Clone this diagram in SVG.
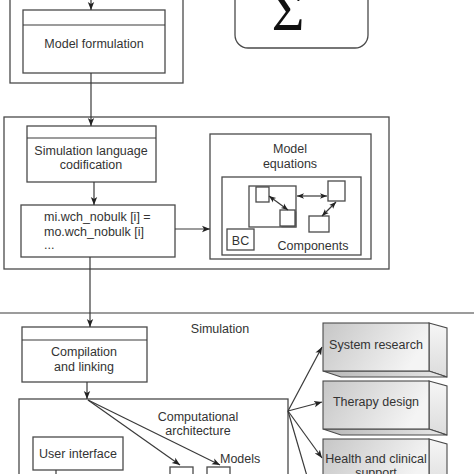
<svg xmlns="http://www.w3.org/2000/svg" width="474" height="474" viewBox="0 0 474 474">
<style>
  .box { fill: #fff; stroke: #4a4a4a; stroke-width: 1.3; }
  .ln { fill: none; stroke: #3a3a3a; stroke-width: 1.2; }
  .t { font-family: "Liberation Sans", Arial, sans-serif; font-size: 12.5px; fill: #333; }
  .c { text-anchor: middle; }
</style>
<defs>
  <marker id="ah" viewBox="0 0 10 10" refX="10" refY="5" markerWidth="8" markerHeight="8" markerUnits="userSpaceOnUse" orient="auto">
    <path d="M0,1 L10,5 L0,9 L2.5,5 Z" fill="#222"/>
  </marker>
  <marker id="as" viewBox="0 0 10 10" refX="0" refY="5" markerWidth="7" markerHeight="7" markerUnits="userSpaceOnUse" orient="auto">
    <path d="M10,1 L0,5 L10,9 L7.5,5 Z" fill="#222"/>
  </marker>
  <marker id="ae" viewBox="0 0 10 10" refX="10" refY="5" markerWidth="7" markerHeight="7" markerUnits="userSpaceOnUse" orient="auto">
    <path d="M0,1 L10,5 L0,9 L2.5,5 Z" fill="#222"/>
  </marker>
  <linearGradient id="front" x1="0" y1="0" x2="1" y2="0.3">
    <stop offset="0" stop-color="#c6c6c6"/>
    <stop offset="1" stop-color="#f4f4f4"/>
  </linearGradient>
  <linearGradient id="side" x1="0" y1="0" x2="0" y2="1">
    <stop offset="0" stop-color="#f6f6f6"/>
    <stop offset="1" stop-color="#dcdcdc"/>
  </linearGradient>
  <linearGradient id="bottom" x1="0" y1="0" x2="1" y2="0">
    <stop offset="0" stop-color="#b8b8b8"/>
    <stop offset="1" stop-color="#e8e8e8"/>
  </linearGradient>
  <g id="box3d">
    <path d="M106,0 L124,5 L124,54 L106,48 Z" fill="url(#side)" stroke="#4a4a4a" stroke-width="1.1"/>
    <path d="M0,48 L106,48 L124,54 L18,54 Z" fill="url(#bottom)" stroke="#4a4a4a" stroke-width="1.1"/>
    <rect x="0" y="0" width="106" height="48" fill="url(#front)" stroke="#4a4a4a" stroke-width="1.1"/>
  </g>
</defs>
<rect width="474" height="474" fill="#fff"/>

<g id="modeling-outer">
  <rect class="box" x="10" y="-20" width="173" height="103"/>
</g>
<g id="model-formulation">
  <rect class="box" x="23" y="10" width="142" height="63"/>
  <line class="ln" x1="23" y1="25" x2="165" y2="25"/>
  <text class="t c" x="94" y="48">Model formulation</text>
</g>
<g id="sigma">
  <rect class="box" x="235" y="-30" width="133" height="78" rx="13"/>
  <text x="288" y="30" text-anchor="middle" font-family="Liberation Serif, 'Times New Roman', serif" font-size="56" fill="#111">Σ</text>
</g>

<g id="codification-outer">
  <rect class="box" x="4" y="117" width="385" height="152"/>
</g>
<g id="sim-language">
  <rect class="box" x="27" y="126" width="129" height="56"/>
  <line class="ln" x1="27" y1="138" x2="156" y2="138"/>
  <text class="t c" x="91" y="155">Simulation language</text>
  <text class="t c" x="91" y="169">codification</text>
</g>
<g id="code">
  <rect class="box" x="21" y="205" width="154" height="52"/>
  <text class="t" x="44" y="221">mi.wch_nobulk [i] =</text>
  <text class="t" x="44" y="236">mo.wch_nobulk [i]</text>
  <text class="t" x="44" y="249">...</text>
</g>
<g id="model-equations">
  <rect class="box" x="210" y="134" width="161" height="125"/>
  <text class="t c" x="290" y="153">Model</text>
  <text class="t c" x="290" y="168">equations</text>
  <rect class="box" x="222" y="177" width="139" height="78"/>
  <rect class="box" x="249" y="186" width="47" height="41"/>
  <rect class="box" x="256" y="187" width="13" height="15"/>
  <rect x="281.5" y="211.5" width="15" height="16" fill="#666"/>
  <rect class="box" x="280" y="210" width="15" height="16"/>
  <rect class="box" x="328" y="181" width="17" height="20"/>
  <rect class="box" x="309" y="216" width="20" height="16"/>
  <g id="bc">
    <rect class="box" x="227" y="229" width="27" height="21"/>
    <text class="t c" x="240.5" y="245">BC</text>
  </g>
  <text class="t c" x="313" y="250">Components</text>
</g>

<g id="simulation-section">
  <line class="ln" x1="0" y1="313" x2="474" y2="313"/>
  <text class="t c" x="220" y="333">Simulation</text>
</g>
<g id="compilation">
  <rect class="box" x="22" y="327" width="125" height="55"/>
  <line class="ln" x1="22" y1="340" x2="147" y2="340"/>
  <text class="t c" x="84" y="356">Compilation</text>
  <text class="t c" x="84" y="371">and linking</text>
</g>
<g id="computational-architecture">
  <rect class="box" x="19" y="399" width="269" height="90"/>
  <text class="t c" x="198" y="421">Computational</text>
  <text class="t c" x="198" y="435">architecture</text>
  <text class="t" x="220" y="463">Models</text>
  <rect class="box" x="170" y="467" width="23" height="20"/>
  <rect class="box" x="207" y="467" width="23" height="20"/>
</g>
<g id="user-interface">
  <rect class="box" x="33" y="437" width="90" height="33"/>
  <text class="t c" x="78" y="458">User interface</text>
  <line class="ln" x1="56" y1="470" x2="56" y2="476"/>
</g>

<g id="system-research">
  <use href="#box3d" x="323" y="323"/>
  <text class="t c" x="376" y="349">System research</text>
</g>
<g id="therapy-design">
  <use href="#box3d" x="323" y="381"/>
  <text class="t c" x="376" y="406">Therapy design</text>
</g>
<g id="health-support">
  <use href="#box3d" x="323" y="439"/>
  <text class="t c" x="376" y="463">Health and clinical</text>
  <text class="t c" x="376" y="477">support</text>
</g>

<g id="connectors">
  <line class="ln" x1="91" y1="-5" x2="91" y2="10" marker-end="url(#ah)"/>
  <line class="ln" x1="91" y1="73" x2="91" y2="126" marker-end="url(#ah)"/>
  <line class="ln" x1="94" y1="182" x2="94" y2="205" marker-end="url(#ah)"/>
  <line class="ln" x1="175" y1="229" x2="210" y2="229" marker-end="url(#ah)"/>
  <line class="ln" x1="90" y1="257" x2="90" y2="327" marker-end="url(#ah)"/>
  <line class="ln" x1="87" y1="382" x2="87" y2="399" marker-end="url(#ah)"/>
  <line class="ln" x1="88" y1="400" x2="180" y2="465" marker-end="url(#ah)"/>
  <line class="ln" x1="88" y1="400" x2="220" y2="465" marker-end="url(#ah)"/>
  <line class="ln" x1="288" y1="411" x2="322" y2="347" marker-end="url(#ah)"/>
  <line class="ln" x1="288" y1="411" x2="322" y2="402" marker-end="url(#ah)"/>
  <line class="ln" x1="288" y1="411" x2="322" y2="458" marker-end="url(#ah)"/>
  <line class="ln" x1="288" y1="411" x2="307" y2="476"/>
  <line class="ln" x1="269" y1="196" x2="288" y2="210" marker-start="url(#as)" marker-end="url(#ae)"/>
  <line class="ln" x1="297" y1="196" x2="327" y2="196" marker-start="url(#as)" marker-end="url(#ae)"/>
  <line class="ln" x1="336" y1="202" x2="322" y2="216" marker-start="url(#as)" marker-end="url(#ae)"/>
</g>
</svg>
